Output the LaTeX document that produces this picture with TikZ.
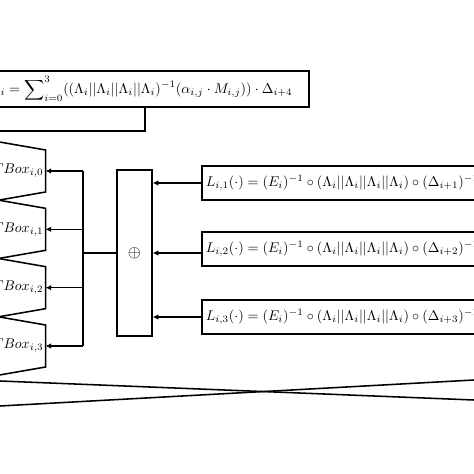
\documentclass[tikz,border=0pt]{standalone}
\usetikzlibrary{positioning,arrows.meta}
\begin{document}
\begin{tikzpicture}[
    line width=1.1pt,
    formulabox/.style={rectangle,draw,fill=white,inner xsep=1mm,inner ysep=0pt,minimum height=8.5mm,align=left},
    tboxlabel/.style={inner sep=1pt},
    xorbox/.style={rectangle,draw,inner sep=0pt,minimum width=8.8mm,minimum height=41.5mm},
    arr/.style={-{Latex[length=4pt,width=4pt]}}
    ]

    \useasboundingbox (0,0) rectangle (11.85,11.85);

    \node (alpha) [formulabox,anchor=north east,text width=9cm,align=right,inner xsep=4.2mm,minimum height=9mm] at (7.75,10.1) {\mbox{$\alpha_i = \displaystyle\sum\nolimits_{i=0}^{3}((\Lambda_i||\Lambda_i||\Lambda_i||\Lambda_i)^{-1}(\alpha_{i,j}\cdot M_{i,j}))\cdot\Delta_{i+4}$}};

    \coordinate (alphatap) at (3.625,8.575);
    \coordinate (alphaout) at (-0.3,8.575);
    \draw (alpha.south -| alphatap) -- (alphatap) -- (alphaout);

    \foreach \x in {0,...,3} {
      \pgfmathsetmacro\ty{7.575-1.4583*\x}
      \draw (-0.5,\ty+0.81) -- (1.14,\ty+0.525) -- (1.14,\ty-0.525) -- (-0.5,\ty-0.81);
      \node (tbox\x) [tboxlabel,anchor=east] at (1.14,\ty) {$TBox_{i,\x}$};
    }

    \node (xor) [xorbox] at (3.36,5.525) {\large$\oplus$};

    \coordinate (bus) at (2.075,5.525);
    \draw (xor.west) -- (bus);
    \draw (tbox0.east -| bus) -- (tbox3.east -| bus);
    \foreach \x in {0,...,3}
      \draw[arr] (tbox\x.east -| bus) -- (tbox\x.east);

    \foreach \x/\y in {1/7.275,2/5.63,3/3.925}
      \node (lin\x) [formulabox,anchor=west,text width=8cm] at (5.025,\y) {$L_{i,\x}(\cdot) = (E_i)^{-1}\circ(\Lambda_i||\Lambda_i||\Lambda_i||\Lambda_i)\circ(\Delta_{i+\x})^{-1}$};

    \draw[arr] (lin1.west) -- (lin1.west -| xor.east);
    \draw[arr] (lin2.west |- xor.east) -- (xor.east);
    \draw[arr] (lin3.west) -- (lin3.west -| xor.east);

    \draw (0,2.325) -- (11.85,1.85);
    \draw (0,1.7) -- (11.85,2.35);

\end{tikzpicture}
\end{document}
